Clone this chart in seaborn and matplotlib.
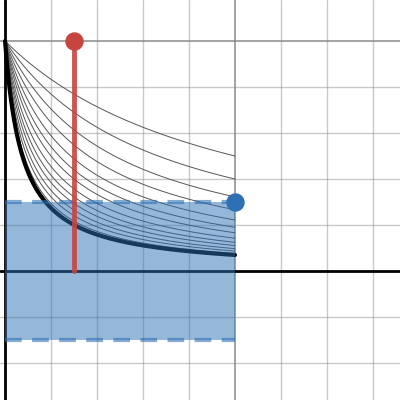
import numpy as np
import matplotlib
matplotlib.use("Agg")
import matplotlib.pyplot as plt
import seaborn as sns
import pandas as pd

# data
thin_k = [0.2, 0.3, 0.42, 0.55, 0.7, 0.85, 1.0, 1.2, 1.4, 1.6, 1.85, 2.1, 2.4]
thick_k = 2.65
rect_x = [0, 5]
rect_y = [-1.5, 1.5]
red_x = 1.5
red_y = [0, 5]
blue_pt = (5, 1.5)

sns.set_style("white")
fig = plt.figure(figsize=(4, 4), dpi=100)
ax = fig.add_axes([0, 0, 1, 1])
ax.set_xlim(-0.11, 8.59)
ax.set_ylim(-2.8, 5.89)
for v in range(0, 9):
    ax.axvline(v, color="#888", lw=1 if v != 5 else 1.2, alpha=0.45 if v != 5 else 0.9, zorder=0)
for v in range(-2, 6):
    ax.axhline(v, color="#888", lw=1 if v != 5 else 1.2, alpha=0.45 if v != 5 else 0.9, zorder=0)
ax.axhline(0, color="black", lw=2, zorder=1)
ax.axvline(0, color="black", lw=2, zorder=1)

x = np.linspace(0, 5, 300)
for k in thin_k:
    sns.lineplot(x=x, y=5 / (1 + k * x), ax=ax, color="#555", lw=0.7, zorder=2)
sns.lineplot(x=x, y=5 / (1 + thick_k * x), ax=ax, color="black", lw=3, zorder=3)

ax.fill_between(rect_x, rect_y[0], rect_y[1], color="#2d70b3", alpha=0.5, lw=0, zorder=4)
for yy in rect_y:
    ax.plot(rect_x, [yy, yy], color="#2d70b3", lw=3, ls=(0, (4, 2.5)), alpha=0.6, zorder=5)
ax.plot([red_x, red_x], red_y, color="#c74440", lw=3.5, alpha=0.9, zorder=5)
ax.scatter([red_x], [red_y[1]], s=150, color="#c74440", zorder=6)
ax.scatter([blue_pt[0]], [blue_pt[1]], s=150, color="#2d70b3", zorder=6)

ax.set_xticks([]); ax.set_yticks([])
for s in ax.spines.values():
    s.set_visible(False)
fig.savefig("out.png", dpi=100)
